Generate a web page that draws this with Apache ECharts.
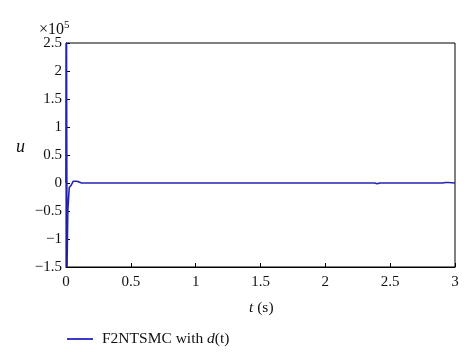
<!DOCTYPE html>
<html><head><meta charset="utf-8">
<script src="https://cdn.jsdelivr.net/npm/echarts@6/dist/echarts.min.js"></script>
<style>html,body{margin:0;padding:0;background:#fff}#c{width:474px;height:364px}</style>
</head><body><div id="c"></div>
<script>
// time (s)
const tValues = [0, 0.004, 0.008, 0.014, 0.025, 0.04, 0.055, 0.07, 0.085, 0.1, 0.12, 0.2, 0.5, 1.0, 1.5, 2.0, 2.38, 2.39, 2.40, 2.41, 2.42, 2.57, 2.58, 2.59, 2.9, 2.93, 2.94, 2.95, 3.0];
// control input u (in units of 1e5)
const uValues = [0, 2.5, -1.5, -0.5, -0.08, -0.04, 0.03, 0.05, 0.03, 0.005, 0, 0, 0, 0, 0, 0, 0, 0.015, -0.015, 0.01, 0, 0, -0.012, 0, 0, 0.01, -0.012, 0.008, 0];
const xTicks = [0, 0.5, 1, 1.5, 2, 2.5, 3];
const yTicks = [-1.5, -1, -0.5, 0, 0.5, 1, 1.5, 2, 2.5];
const seriesName = 'F2NTSMC with d(t)';

const font = '"Liberation Serif", "DejaVu Serif", serif';
const chart = echarts.init(document.getElementById('c'));
const fmt = v => String(v).replace('-', '\u2212');
chart.setOption({
  animation: false,
  grid: {left: 66, right: 19, top: 43, bottom: 97, show: true, borderColor: '#000', borderWidth: 1, z: 0},
  xAxis: {
    type: 'value', min: xTicks[0], max: xTicks[xTicks.length - 1], interval: 0.5, z: 0,
    axisLine: {onZero: false, lineStyle: {color: '#000', width: 1}},
    axisTick: {inside: true, length: 4, lineStyle: {color: '#000'}},
    axisLabel: {fontFamily: font, fontSize: 15, color: '#111', margin: 8, formatter: fmt},
    splitLine: {show: false}
  },
  yAxis: {
    type: 'value', min: yTicks[0], max: yTicks[yTicks.length - 1], interval: 0.5, z: 0,
    axisLine: {show: true, lineStyle: {color: '#000', width: 1}},
    axisTick: {inside: true, length: 4, lineStyle: {color: '#000'}},
    axisLabel: {fontFamily: font, fontSize: 15, color: '#111', margin: 4, formatter: fmt},
    splitLine: {show: false}
  },
  legend: {
    bottom: 12, left: 62, itemWidth: 26, itemHeight: 2, itemGap: 10,
    icon: 'rect',
    textStyle: {fontFamily: font, fontSize: 15.5, color: '#111', padding: [0, 0, 0, 4],
      rich: {i: {fontFamily: font, fontSize: 15.5, fontStyle: 'italic'}}},
    formatter: () => 'F2NTSMC with {i|d}(t)',
    data: [{name: seriesName, itemStyle: {color: '#3a3ac8'}}]
  },
  graphic: [
    {type: 'text', left: 39, top: 20, style: {text: '×10{s|5}', fontFamily: font, fontSize: 16, fill: '#111',
      rich: {s: {fontFamily: font, fontSize: 11, verticalAlign: 'top', padding: [0,0,9,0]}}}},
    {type: 'text', left: 16, top: 138, style: {text: 'u', fontFamily: font, fontSize: 18, fontStyle: 'italic', fill: '#111'}},
    {type: 'text', left: 249, top: 300, style: {text: '{i|t} (s)', fontFamily: font, fontSize: 15.5, fill: '#111',
      rich: {i: {fontFamily: font, fontSize: 15.5, fontStyle: 'italic'}}}}
  ],
  series: [{
    name: seriesName, type: 'line', showSymbol: false, clip: false, z: 5,
    lineStyle: {color: '#2424b4', width: 1.6},
    itemStyle: {color: '#2424b4'},
    data: tValues.map((t, i) => [t, uValues[i]])
  }]
});
</script></body></html>
